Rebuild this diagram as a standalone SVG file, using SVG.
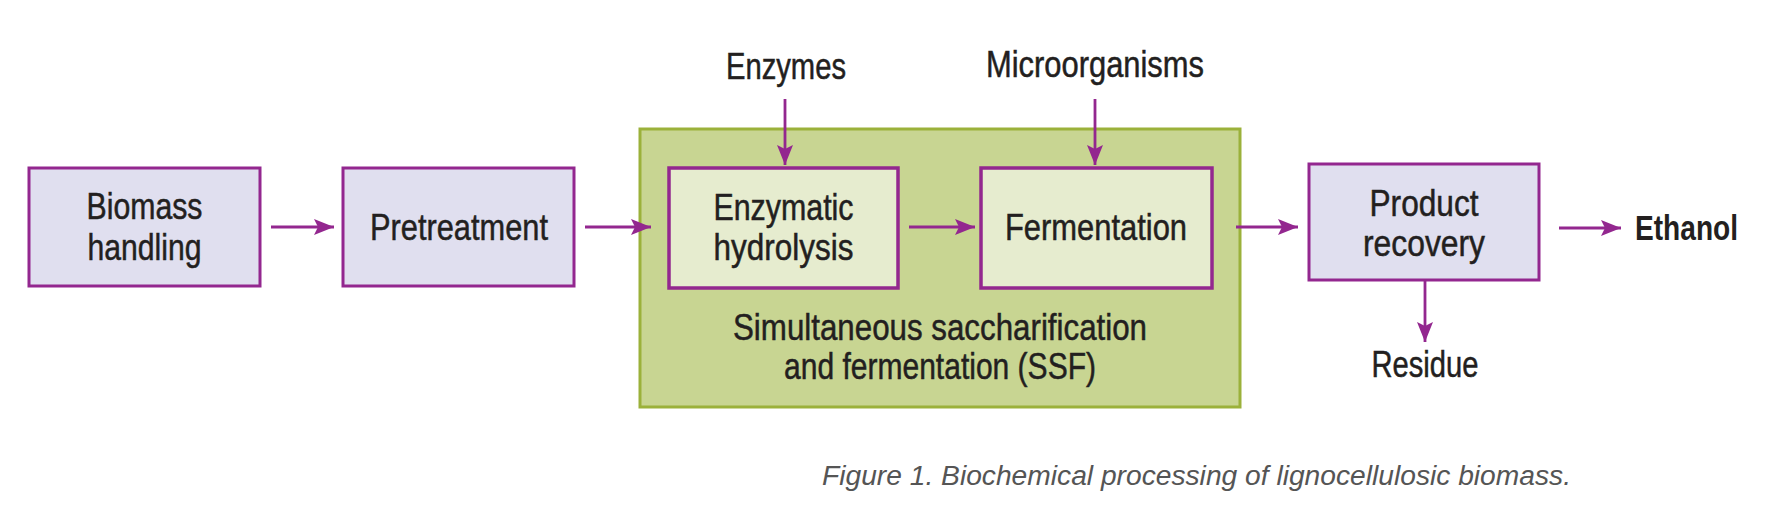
<svg xmlns="http://www.w3.org/2000/svg" width="1765" height="520" viewBox="0 0 1765 520">
<style>
.node{fill:#E0DFEF;stroke:#93278F;stroke-width:3}
.inner{fill:#E6ECCF;stroke:#93278F;stroke-width:3.5}
.ssf{fill:#C8D592;stroke:#9BB13A;stroke-width:3}
.lbl{font-family:"Liberation Sans",Arial,sans-serif;font-size:36.5px;fill:#231F20;stroke:#231F20;stroke-width:0.5;text-anchor:middle}
.eth{font-family:"Liberation Sans",Arial,sans-serif;font-size:35px;font-weight:bold;fill:#231F20}
.cap{font-family:"Liberation Sans",Arial,sans-serif;font-size:27px;font-style:italic;fill:#555555}
.conn{stroke:#93278F;stroke-width:2.8;fill:none}
</style>
<defs>
<marker id="ah" markerUnits="userSpaceOnUse" markerWidth="20" markerHeight="16" viewBox="0 0 20 16" refX="20" refY="8" orient="auto">
<path d="M0,0 L20,8 L0,16 L4,8 Z" fill="#93278F"/>
</marker>
</defs>
<g id="ssf">
<rect class="ssf" x="640" y="129" width="600" height="278"/>
<text class="lbl" x="940" y="340" textLength="414" lengthAdjust="spacingAndGlyphs">Simultaneous saccharification</text>
<text class="lbl" x="940" y="379" textLength="312" lengthAdjust="spacingAndGlyphs">and fermentation (SSF)</text>
</g>
<g id="biomass">
<rect class="node" x="29" y="168" width="231" height="118"/>
<text class="lbl" x="144.5" y="219" textLength="116" lengthAdjust="spacingAndGlyphs">Biomass</text>
<text class="lbl" x="144.5" y="260" textLength="114" lengthAdjust="spacingAndGlyphs">handling</text>
</g>
<g id="pretreatment">
<rect class="node" x="343" y="168" width="231" height="118"/>
<text class="lbl" x="459" y="240" textLength="178" lengthAdjust="spacingAndGlyphs">Pretreatment</text>
</g>
<g id="hydrolysis">
<rect class="inner" x="669" y="168" width="229" height="120"/>
<text class="lbl" x="783.5" y="220" textLength="140" lengthAdjust="spacingAndGlyphs">Enzymatic</text>
<text class="lbl" x="783.5" y="260" textLength="140" lengthAdjust="spacingAndGlyphs">hydrolysis</text>
</g>
<g id="fermentation">
<rect class="inner" x="981" y="168" width="231" height="120"/>
<text class="lbl" x="1096" y="240" textLength="182" lengthAdjust="spacingAndGlyphs">Fermentation</text>
</g>
<g id="recovery">
<rect class="node" x="1309" y="164" width="230" height="116"/>
<text class="lbl" x="1424" y="216" textLength="109" lengthAdjust="spacingAndGlyphs">Product</text>
<text class="lbl" x="1424" y="256" textLength="122" lengthAdjust="spacingAndGlyphs">recovery</text>
</g>
<g id="enzymes"><text class="lbl" x="786" y="79" textLength="120" lengthAdjust="spacingAndGlyphs">Enzymes</text></g>
<g id="microorganisms"><text class="lbl" x="1095" y="77" textLength="218" lengthAdjust="spacingAndGlyphs">Microorganisms</text></g>
<g id="ethanol"><text class="eth" x="1635" y="240" textLength="103" lengthAdjust="spacingAndGlyphs">Ethanol</text></g>
<g id="residue"><text class="lbl" x="1425" y="377" textLength="107" lengthAdjust="spacingAndGlyphs">Residue</text></g>
<g id="connectors">
<line class="conn" x1="271" y1="227" x2="334" y2="227" marker-end="url(#ah)"/>
<line class="conn" x1="585" y1="227" x2="651" y2="227" marker-end="url(#ah)"/>
<line class="conn" x1="909" y1="227" x2="975" y2="227" marker-end="url(#ah)"/>
<line class="conn" x1="1236" y1="227" x2="1298" y2="227" marker-end="url(#ah)"/>
<line class="conn" x1="1559" y1="228" x2="1621" y2="228" marker-end="url(#ah)"/>
<line class="conn" x1="785" y1="99" x2="785" y2="165" marker-end="url(#ah)"/>
<line class="conn" x1="1095" y1="99" x2="1095" y2="165" marker-end="url(#ah)"/>
<line class="conn" x1="1425" y1="281" x2="1425" y2="342" marker-end="url(#ah)"/>
</g>
<text class="cap" x="822" y="485" textLength="749" lengthAdjust="spacingAndGlyphs">Figure 1. Biochemical processing of lignocellulosic biomass.</text>
</svg>
